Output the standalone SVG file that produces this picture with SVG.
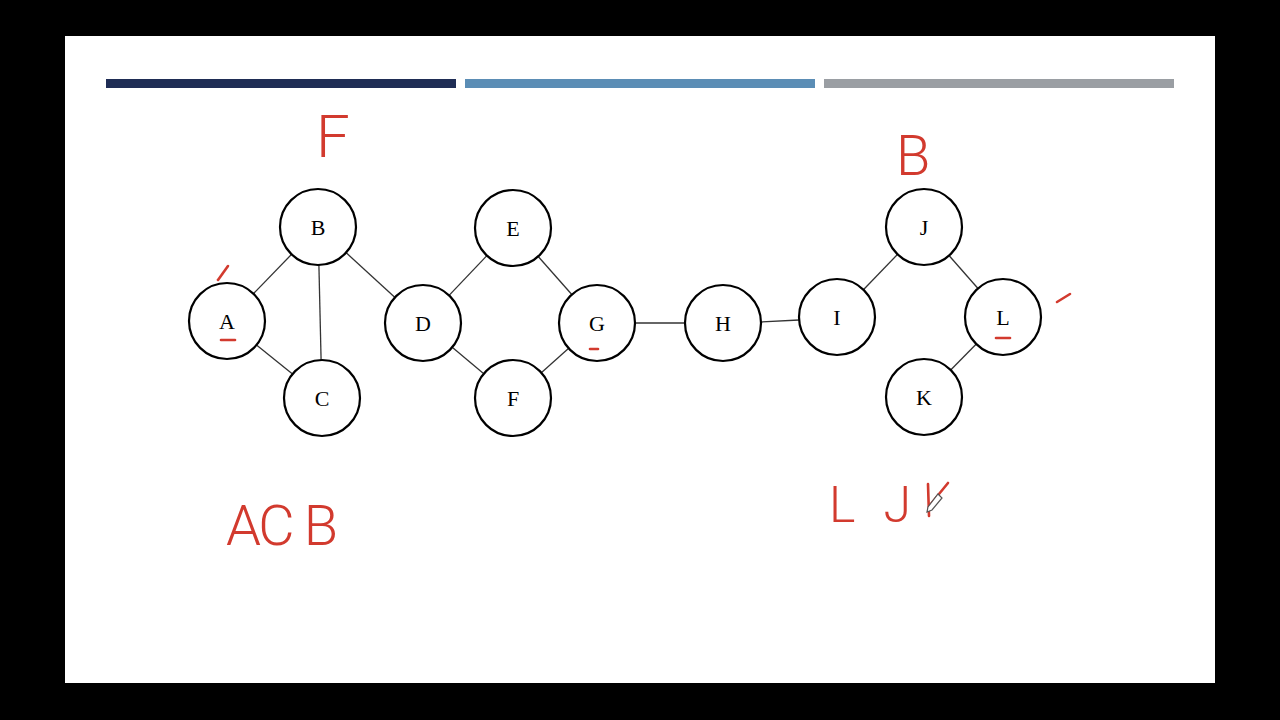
<svg xmlns="http://www.w3.org/2000/svg" width="1280" height="720" viewBox="0 0 1280 720">
<style>
.node circle{fill:#fff;stroke:#000;stroke-width:2.2}
.node text{font-family:"Liberation Serif",serif;font-size:22px;text-anchor:middle;fill:#000}
#edges line{stroke:#333;stroke-width:1.3}
.hand{font-family:Roboto,"Liberation Sans",sans-serif;font-weight:300;fill:#d23a2e}
.mark{stroke:#d23a2e;stroke-width:2.6;stroke-linecap:round;fill:none}
</style>
<rect x="0" y="0" width="1280" height="720" fill="#000"/>
<rect x="65" y="36" width="1150" height="647" fill="#fff"/>
<g id="bars">
<rect x="106" y="79" width="350" height="9" fill="#1f2d55"/>
<rect x="465" y="79" width="350" height="9" fill="#5b8db5"/>
<rect x="824" y="79" width="350" height="9" fill="#9a9ea3"/>
</g>
<g id="edges">
<line x1="253.4" y1="293.7" x2="291.6" y2="254.3"/>
<line x1="256.5" y1="344.9" x2="292.5" y2="374.1"/>
<line x1="318.9" y1="265" x2="321.1" y2="360"/>
<line x1="346" y1="252.6" x2="395" y2="297.4"/>
<line x1="449.1" y1="295.4" x2="486.9" y2="255.6"/>
<line x1="452.2" y1="347.3" x2="483.8" y2="373.7"/>
<line x1="538.2" y1="256.5" x2="571.8" y2="294.5"/>
<line x1="541.3" y1="372.7" x2="568.7" y2="348.3"/>
<line x1="635" y1="323" x2="685" y2="323"/>
<line x1="761" y1="322" x2="799" y2="320"/>
<line x1="863.4" y1="289.7" x2="897.6" y2="254.3"/>
<line x1="949" y1="255.5" x2="978" y2="288.5"/>
<line x1="976.3" y1="344" x2="950.7" y2="370"/>
</g>
<g id="node-A" class="node"><circle cx="227" cy="321" r="38"/><text x="227" y="329">A</text></g>
<g id="node-B" class="node"><circle cx="318" cy="227" r="38"/><text x="318" y="235">B</text></g>
<g id="node-C" class="node"><circle cx="322" cy="398" r="38"/><text x="322" y="406">C</text></g>
<g id="node-D" class="node"><circle cx="423" cy="323" r="38"/><text x="423" y="331">D</text></g>
<g id="node-E" class="node"><circle cx="513" cy="228" r="38"/><text x="513" y="236">E</text></g>
<g id="node-F" class="node"><circle cx="513" cy="398" r="38"/><text x="513" y="406">F</text></g>
<g id="node-G" class="node"><circle cx="597" cy="323" r="38"/><text x="597" y="331">G</text></g>
<g id="node-H" class="node"><circle cx="723" cy="323" r="38"/><text x="723" y="331">H</text></g>
<g id="node-I" class="node"><circle cx="837" cy="317" r="38"/><text x="837" y="325">I</text></g>
<g id="node-J" class="node"><circle cx="924" cy="227" r="38"/><text x="924" y="235">J</text></g>
<g id="node-L" class="node"><circle cx="1003" cy="317" r="38"/><text x="1003" y="325">L</text></g>
<g id="node-K" class="node"><circle cx="924" cy="397" r="38"/><text x="924" y="405">K</text></g>
<g id="annotations">
<text class="hand" x="316" y="157" font-size="60">F</text>
<text class="hand" x="896" y="175" font-size="56">B</text>
<text class="hand" x="226" y="545" font-size="56" textLength="112" lengthAdjust="spacing">AC B</text>
<text class="hand" x="829" y="522" font-size="50" textLength="82" lengthAdjust="spacing">L J</text>
<line class="mark" x1="218" y1="280" x2="228" y2="266"/>
<line class="mark" x1="221" y1="340" x2="235" y2="340"/>
<line class="mark" x1="590" y1="349" x2="598" y2="349"/>
<line class="mark" x1="996" y1="338" x2="1010" y2="338"/>
<line class="mark" x1="1057" y1="302" x2="1070" y2="294"/>
<line class="mark" x1="928" y1="484" x2="929" y2="516"/>
<line class="mark" x1="930" y1="505" x2="948" y2="483"/>
<path d="M938 494 L942 498 L932 510 L927 512 L928 507 Z" fill="#fff" stroke="#555" stroke-width="1.2"/>
</g>
</svg>
